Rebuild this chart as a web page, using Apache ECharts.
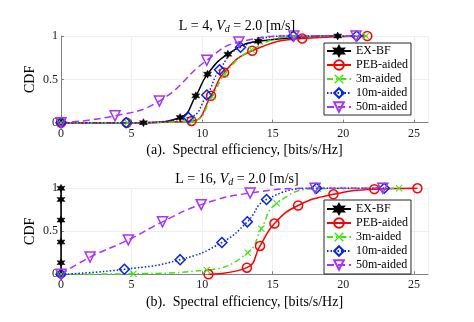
<!DOCTYPE html>
<html>
<head>
<meta charset="utf-8">
<script src="https://cdn.jsdelivr.net/npm/echarts@6/dist/echarts.min.js"></script>
<style>html,body{margin:0;padding:0;background:#fff;}#c{width:474px;height:322px;}</style>
</head>
<body>
<div id="c"></div>
<script>
// ---- data (x = spectral efficiency, y = CDF) ----
var seriesNames = ['EX-BF', 'PEB-aided', '3m-aided', '10m-aided', '50m-aided'];
var xTicks = [0, 5, 10, 15, 20, 25];
var yTicks = [0, 0.5, 1];

// (a) L = 4
var topExbf = [[0,0],[5.84,0],[8.44,0.06],[9.55,0.31],[10.38,0.56],[11.82,0.79],[13.97,0.94],[19.6,1.0]];
var topPeb  = [[0,0],[4.66,0],[9.25,0.02],[10.63,0.31],[11.55,0.58],[13.55,0.83],[17.09,0.97],[21.7,1.0]];
var top3m   = [[0,0],[4.7,0],[9.3,0.02],[10.7,0.3],[11.6,0.56],[13.5,0.84],[16.5,0.99],[21.6,1.0]];
var top10m  = [[0,0],[4.61,0],[9.03,0.06],[10.33,0.32],[11.23,0.61],[12.72,0.87],[16.45,1.0],[20.95,1.0]];
var top50m  = [[0,0],[3.83,0.08],[6.97,0.25],[10.33,0.72],[12.6,0.93],[16.5,1.0],[20.9,1.0]];

// (b) L = 16
var botExbf = [[0,0],[0,0.135],[0,0.375],[0,0.63],[0,0.87],[0,1.0]];
var botPeb  = [[10.45,0],[13.17,0.077],[14.1,0.33],[15.12,0.59],[16.8,0.80],[19.3,0.93],[22.2,0.99],[25.25,1.0]];
var bot3m   = [[0,0],[5.13,0.007],[10.33,0.05],[13.23,0.25],[14.19,0.53],[15.28,0.825],[18.2,0.995],[23.95,1.0]];
var bot10m  = [[0,0],[4.49,0.058],[8.44,0.17],[11.4,0.37],[13.2,0.61],[14.56,0.87],[18.1,1.0],[22.9,1.0]];
var bot50m  = [[0,0],[2.06,0.2],[4.77,0.4],[7.19,0.61],[9.93,0.81],[13.4,0.945],[18.0,1.0],[22.8,1.0]];

var FONT = '"Liberation Serif", "Times New Roman", serif';
var STAR = 'path://M0,-10L2.6,-4.5L8.66,-5L5.2,0L8.66,5L2.6,4.5L0,10L-2.6,4.5L-8.66,5L-5.2,0L-8.66,-5L-2.6,-4.5Z';
var XMARK = 'path://M-10,-8L-8,-10L0,-2L8,-10L10,-8L2,0L10,8L8,10L0,2L-8,10L-10,8L-2,0Z';
var TRIDOWN = 'path://M-10,-8.66L10,-8.66L0,8.66Z';

var styles = {
  'EX-BF':     {color:'#000000', type:'solid', symbol:STAR, size:8, fill:'#000000', bw:0.5},
  'PEB-aided': {color:'#ff0000', type:'solid', symbol:'circle', size:9, fill:'rgba(0,0,0,0)', bw:1.5},
  '3m-aided':  {color:'#3be80c', type:[6,3,1.5,3], symbol:XMARK, size:7, fill:'#3be80c', bw:0},
  '10m-aided': {color:'#0022ff', type:[1.5,2], symbol:'diamond', size:10, fill:'rgba(0,0,0,0)', bw:1.5},
  '50m-aided': {color:'#a633ff', type:[7,4], symbol:TRIDOWN, size:10, fill:'rgba(0,0,0,0)', bw:1.5}
};

function mk(name, data, gi, smooth) {
  var s = styles[name];
  return {
    name: name, type: 'line', data: data, xAxisIndex: gi, yAxisIndex: gi,
    smooth: smooth ? 0.5 : false,
    clip: false, symbol: s.symbol, symbolSize: s.size, showAllSymbol: true,
    lineStyle: {color: s.color, width: 1.5, type: s.type},
    itemStyle: {color: s.fill, borderColor: s.color, borderWidth: s.bw},
    emphasis: {disabled: true}, animation: false, z: 2
  };
}

function xAx(gi, label) {
  return {
    type: 'value', gridIndex: gi, min: 0, max: 26, interval: 5,
    name: label, nameLocation: 'middle', nameGap: 21,
    nameTextStyle: {fontFamily: FONT, fontSize: 14, color: '#000'},
    axisLine: {show: true, lineStyle: {color: '#808080', width: 1}},
    axisTick: {show: true, inside: true, length: 3, lineStyle: {color: '#808080'}},
    axisLabel: {fontFamily: FONT, fontSize: 12, color: '#1a1a1a', margin: 5, showMaxLabel: false,
      formatter: function (v) { return xTicks.indexOf(v) >= 0 ? String(v) : ''; }},
    splitLine: {show: true, lineStyle: {color: '#eeeeee', width: 1}}
  };
}
function yAx(gi) {
  return {
    type: 'value', gridIndex: gi, min: 0, max: 1, interval: 0.5,
    name: 'CDF', nameLocation: 'middle', nameGap: 24, nameRotate: 90, nameMoveOverlap: false,
    nameTextStyle: {fontFamily: FONT, fontSize: 14, color: '#000'},
    axisLine: {show: true, lineStyle: {color: '#808080', width: 1}},
    axisTick: {show: true, inside: true, length: 3, lineStyle: {color: '#808080'}},
    axisLabel: {fontFamily: FONT, fontSize: 12, color: '#1a1a1a', margin: 3,
      formatter: function (v) { return yTicks.indexOf(v) >= 0 ? String(v) : ''; }},
    splitLine: {show: true, lineStyle: {color: '#eeeeee', width: 1}}
  };
}
function leg(top, pad) {
  return {
    data: seriesNames, orient: 'vertical', left: 324, top: top,
    padding: pad, itemGap: 2, itemWidth: 24, itemHeight: 12,
    backgroundColor: '#ffffff', borderColor: '#262626', borderWidth: 1, borderRadius: 0,
    textStyle: {fontFamily: FONT, fontSize: 12, color: '#000', lineHeight: 12},
    selectedMode: false, z: 10
  };
}
function ttl(y, L) {
  return {
    type: 'text', left: 'center', top: y, z: 20,
    style: {
      text: '{n|L = ' + L + ', }{i|V}{s|d}{n| = 2.0 [m/s]}',
      x: 0, y: 0,
      rich: {
        n: {fontFamily: FONT, fontSize: 14, fill: '#000'},
        i: {fontFamily: FONT, fontSize: 14, fontStyle: 'italic', fill: '#000'},
        s: {fontFamily: FONT, fontSize: 10, fontStyle: 'italic', fill: '#000', padding: [6, 0, 0, 0]}
      }
    }
  };
}

var chart = echarts.init(document.getElementById('c'), null, {renderer: 'canvas'});
chart.setOption({
  animation: false,
  backgroundColor: '#ffffff',
  grid: [
    {left: 61, top: 36, width: 367, height: 86.7},
    {left: 61, top: 188.3, width: 367, height: 86}
  ],
  xAxis: [xAx(0, '(a).  Spectral efficiency, [bits/s/Hz]'), xAx(1, '(b).  Spectral efficiency, [bits/s/Hz]')],
  yAxis: [yAx(0), yAx(1)],
  legend: [leg(43, [2, 3, 2, 2]), leg(200, [3, 3, 3, 2])],
  graphic: [ttl(19, 4), ttl(172, 16)],
  series: [
    mk('EX-BF', topExbf, 0, true), mk('PEB-aided', topPeb, 0, true), mk('3m-aided', top3m, 0, true),
    mk('10m-aided', top10m, 0, true), mk('50m-aided', top50m, 0, true),
    mk('EX-BF', botExbf, 1, false), mk('PEB-aided', botPeb, 1, true), mk('3m-aided', bot3m, 1, true),
    mk('10m-aided', bot10m, 1, true), mk('50m-aided', bot50m, 1, true)
  ]
});
</script>
</body>
</html>
